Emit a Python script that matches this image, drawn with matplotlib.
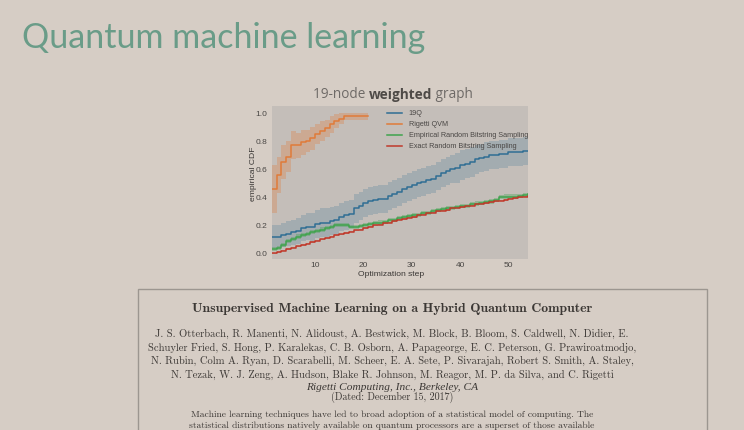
import numpy as np
import matplotlib.pyplot as plt
from matplotlib.patches import Rectangle

W, H = 744, 430

# ---- chart data ----
steps = np.arange(1, 55)
qvm_steps = np.arange(1, 22)

q19 = [0.12, 0.12, 0.13, 0.14, 0.15, 0.16, 0.18, 0.19, 0.19, 0.21,
       0.22, 0.22, 0.23, 0.24, 0.26, 0.27, 0.28, 0.32, 0.34, 0.36,
       0.37, 0.38, 0.39, 0.39, 0.41, 0.42, 0.44, 0.46, 0.47, 0.49,
       0.50, 0.51, 0.52, 0.53, 0.55, 0.57, 0.59, 0.60, 0.61, 0.63,
       0.64, 0.65, 0.67, 0.68, 0.69, 0.70, 0.70, 0.71, 0.71, 0.72,
       0.72, 0.72, 0.73, 0.73]
q19_err = [0.085, 0.085, 0.085, 0.09, 0.09, 0.09, 0.095, 0.095, 0.1, 0.1,
           0.1, 0.1, 0.1, 0.1, 0.1, 0.1, 0.1, 0.1, 0.1, 0.1,
           0.1, 0.1, 0.1, 0.1, 0.1, 0.1, 0.1, 0.1, 0.1, 0.1,
           0.1, 0.1, 0.1, 0.1, 0.1, 0.1, 0.1, 0.1, 0.105, 0.105,
           0.105, 0.105, 0.105, 0.1, 0.1, 0.1, 0.1, 0.1, 0.1, 0.1,
           0.1, 0.1, 0.1, 0.1]

qvm = [0.46, 0.56, 0.65, 0.69, 0.77, 0.77, 0.79, 0.80, 0.82, 0.85,
       0.87, 0.89, 0.92, 0.94, 0.96, 0.98, 0.98, 0.98, 0.98, 0.98, 0.98]
qvm_err = [0.17, 0.13, 0.12, 0.11, 0.10, 0.09, 0.09, 0.08, 0.08, 0.07,
           0.07, 0.06, 0.06, 0.05, 0.04, 0.03, 0.03, 0.03, 0.03, 0.03, 0.03]

empirical = [0.03, 0.04, 0.06, 0.09, 0.10, 0.12, 0.13, 0.14, 0.15, 0.16,
             0.17, 0.18, 0.19, 0.20, 0.20, 0.20, 0.19, 0.19, 0.195, 0.20,
             0.21, 0.215, 0.22, 0.225, 0.235, 0.24, 0.25, 0.26, 0.265, 0.27,
             0.275, 0.285, 0.29, 0.30, 0.31, 0.315, 0.32, 0.325, 0.33, 0.335,
             0.34, 0.35, 0.355, 0.36, 0.365, 0.37, 0.38, 0.40, 0.405, 0.405,
             0.405, 0.41, 0.415, 0.42]
empirical_err = 0.015

exact = [0.00, 0.01, 0.02, 0.03, 0.04, 0.05, 0.06, 0.07, 0.08, 0.09,
         0.10, 0.11, 0.12, 0.13, 0.135, 0.145, 0.155, 0.165, 0.17, 0.18,
         0.19, 0.20, 0.205, 0.215, 0.22, 0.23, 0.24, 0.245, 0.255, 0.26,
         0.27, 0.275, 0.285, 0.29, 0.30, 0.305, 0.31, 0.32, 0.325, 0.33,
         0.335, 0.34, 0.35, 0.355, 0.36, 0.365, 0.37, 0.375, 0.38, 0.39,
         0.395, 0.40, 0.405, 0.41]
exact_err = 0.005

labels = ['19Q', 'Rigetti QVM', 'Empirical Random Bitstring Sampling',
          'Exact Random Bitstring Sampling']
x_ticks = [10, 20, 30, 40, 50]
y_ticks = [0.0, 0.2, 0.4, 0.6, 0.8, 1.0]

# ---- slide text ----
slide_title = 'Quantum machine learning'
paper_title = 'Unsupervised Machine Learning on a Hybrid Quantum Computer'
paper_authors = [
    'J. S. Otterbach, R. Manenti, N. Alidoust, A. Bestwick, M. Block, B. Bloom, S. Caldwell, N. Didier, E.',
    'Schuyler Fried, S. Hong, P. Karalekas, C. B. Osborn, A. Papageorge, E. C. Peterson, G. Prawiroatmodjo,',
    'N. Rubin, Colm A. Ryan, D. Scarabelli, M. Scheer, E. A. Sete, P. Sivarajah, Robert S. Smith, A. Staley,',
    'N. Tezak, W. J. Zeng, A. Hudson, Blake R. Johnson, M. Reagor, M. P. da Silva, and C. Rigetti',
]
paper_affil = 'Rigetti Computing, Inc., Berkeley, CA'
paper_date = '(Dated: December 15, 2017)'
paper_abstract = [
    'Machine learning techniques have led to broad adoption of a statistical model of computing. The',
    'statistical distributions natively available on quantum processors are a superset of those available',
]

BG = '#d6cdc5'
FACE = '#c4beb9'
TEAL = '#6a9c88'
INK = '#3c3835'
CHART_FONT = 'Liberation Sans'
colors = ['#2f6e94', '#e07b39', '#3fa34d', '#c0392b']


def fx(px):
    return px / W


def fy(py):
    return 1 - py / H


fig = plt.figure(figsize=(W / 100, H / 100), dpi=100, facecolor=BG)

fig.text(fx(22), fy(48), slide_title, fontsize=24.5, color=TEAL,
         family='Lato', va='baseline')

# chart
ax = fig.add_axes([fx(271.7), fy(259), (527.7 - 271.7) / W, (259 - 106) / H])
ax.set_facecolor(FACE)
for s in ax.spines.values():
    s.set_visible(False)

q19 = np.array(q19)
q19_err = np.array(q19_err)
qvm = np.array(qvm)
qvm_err = np.array(qvm_err)
empirical = np.array(empirical)
exact = np.array(exact)

ax.fill_between(steps, q19 - q19_err, q19 + q19_err, step='post', color=colors[0], alpha=0.22, lw=0)
ax.fill_between(qvm_steps, qvm - qvm_err, np.minimum(qvm + qvm_err, 1.0), step='post',
                color=colors[1], alpha=0.3, lw=0)
ax.fill_between(steps, empirical - empirical_err, empirical + empirical_err, step='post',
                color=colors[2], alpha=0.35, lw=0)
ax.fill_between(steps, exact - exact_err, exact + exact_err, step='post', color=colors[3], alpha=0.35, lw=0)

ax.step(steps, q19, where='post', color=colors[0], lw=1.1, label=labels[0])
ax.step(qvm_steps, qvm, where='post', color=colors[1], lw=1.1, label=labels[1])
ax.step(steps, empirical, where='post', color=colors[2], lw=1.1, label=labels[2])
ax.step(steps, exact, where='post', color=colors[3], lw=1.1, label=labels[3])

ax.set_xlim(1, 54)
ax.set_ylim(-0.04, 1.05)
ax.set_xticks(x_ticks)
ax.set_yticks(y_ticks)
ax.set_yticklabels(['%.1f' % v for v in y_ticks])
ax.tick_params(length=0, labelsize=6, labelcolor='#4a4745', pad=3)
ax.tick_params(axis='x', pad=2)
for lab in ax.get_xticklabels() + ax.get_yticklabels():
    lab.set_family(CHART_FONT)
ax.set_xlabel('Optimization step', fontsize=6.1, color='#3a3735', family=CHART_FONT)
ax.set_ylabel('empirical CDF', fontsize=6.1, color='#3a3735', family=CHART_FONT)
ax.xaxis.set_label_coords(0.466, -0.078)
ax.yaxis.set_label_coords(-0.058, 0.56)

leg = ax.legend(loc='upper left', bbox_to_anchor=(0.45, 0.972), frameon=False,
                prop={'family': CHART_FONT, 'size': 5.2}, handlelength=2.1,
                handletextpad=0.9, labelspacing=0.55, borderpad=0, borderaxespad=0)
for t in leg.get_texts():
    t.set_color('#4a4745')

# chart title with bold middle word
t1 = fig.text(fx(313), fy(98.5), '19-node ', fontsize=9.8, color='#6e6a67',
              family='Open Sans', va='baseline')
t2 = ax.annotate('weighted', xy=(1, 0), xycoords=t1, fontsize=9.8, color='#4e4a47',
                 family='Open Sans', weight='bold', va='bottom', annotation_clip=False)
ax.annotate(' graph', xy=(1, 0), xycoords=t2, fontsize=9.8, color='#6e6a67',
            family='Open Sans', va='bottom', annotation_clip=False)

# paper page
fig.add_artist(Rectangle((fx(138), fy(440)), (707 - 138) / W, (440 - 289) / H,
                         transform=fig.transFigure, facecolor='none',
                         edgecolor='#9c9690', lw=1))
cx = fx(392)
fig.text(cx, fy(309), paper_title, family='cmb10', fontsize=9.9, color=INK,
         ha='center', va='center')
for i, line in enumerate(paper_authors):
    fig.text(cx, fy(334 + i * 13.7), line, family='cmr10', fontsize=7.6, color=INK,
             ha='center', va='center')
fig.text(cx, fy(387), paper_affil, family='Liberation Serif', style='italic',
         fontsize=8.2, color=INK, ha='center', va='center')
fig.text(cx, fy(397.5), paper_date, family='cmr10', fontsize=7.2, color=INK,
         ha='center', va='center')
for i, line in enumerate(paper_abstract):
    fig.text(cx, fy(415 + i * 11), line, family='cmr10', fontsize=6.85, color=INK,
             ha='center', va='center')

fig.savefig('out.png', dpi=100, facecolor=BG)
